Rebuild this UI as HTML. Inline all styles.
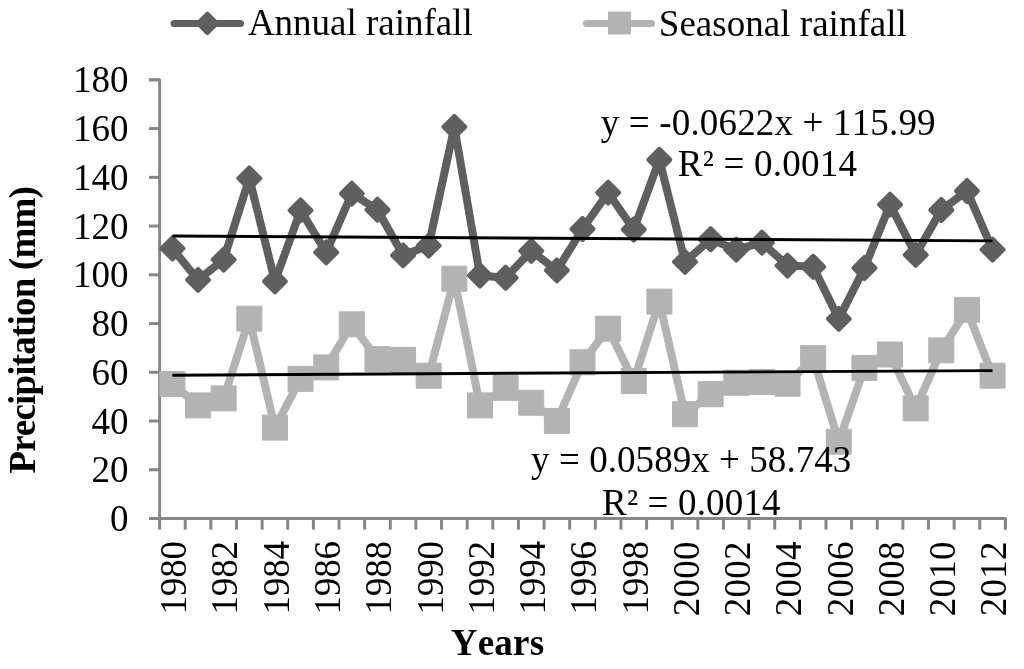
<!DOCTYPE html>
<html><head><meta charset="utf-8"><style>
html,body{margin:0;padding:0;background:#fff;}
body{width:1024px;height:669px;overflow:hidden;}
svg{display:block;}
text{font-kerning:none;font-family:'Liberation Serif', 'Times New Roman', serif;font-size:37px;fill:#000;}
</style></head><body>
<svg width="1024" height="669" viewBox="0 0 1024 669">
<rect width="1024" height="669" fill="#fff"/>
<path d="M149,79.84H159.6V518.5" fill="none" stroke="#868686" stroke-width="2.9" stroke-linejoin="round"/>
<line x1="149" y1="518.50" x2="159.6" y2="518.50" stroke="#868686" stroke-width="3"/>
<line x1="149" y1="469.76" x2="159.6" y2="469.76" stroke="#868686" stroke-width="3"/>
<line x1="149" y1="421.02" x2="159.6" y2="421.02" stroke="#868686" stroke-width="3"/>
<line x1="149" y1="372.28" x2="159.6" y2="372.28" stroke="#868686" stroke-width="3"/>
<line x1="149" y1="323.54" x2="159.6" y2="323.54" stroke="#868686" stroke-width="3"/>
<line x1="149" y1="274.80" x2="159.6" y2="274.80" stroke="#868686" stroke-width="3"/>
<line x1="149" y1="226.06" x2="159.6" y2="226.06" stroke="#868686" stroke-width="3"/>
<line x1="149" y1="177.32" x2="159.6" y2="177.32" stroke="#868686" stroke-width="3"/>
<line x1="149" y1="128.58" x2="159.6" y2="128.58" stroke="#868686" stroke-width="3"/>
<line x1="149" y1="79.84" x2="159.6" y2="79.84" stroke="#868686" stroke-width="3"/>
<path d="M149,518.5H1005.39V529.6" fill="none" stroke="#868686" stroke-width="2.9" stroke-linejoin="round"/>
<line x1="159.60" y1="518.5" x2="159.60" y2="529.6" stroke="#868686" stroke-width="3"/>
<line x1="185.23" y1="518.5" x2="185.23" y2="529.6" stroke="#868686" stroke-width="3"/>
<line x1="210.86" y1="518.5" x2="210.86" y2="529.6" stroke="#868686" stroke-width="3"/>
<line x1="236.49" y1="518.5" x2="236.49" y2="529.6" stroke="#868686" stroke-width="3"/>
<line x1="262.12" y1="518.5" x2="262.12" y2="529.6" stroke="#868686" stroke-width="3"/>
<line x1="287.75" y1="518.5" x2="287.75" y2="529.6" stroke="#868686" stroke-width="3"/>
<line x1="313.38" y1="518.5" x2="313.38" y2="529.6" stroke="#868686" stroke-width="3"/>
<line x1="339.01" y1="518.5" x2="339.01" y2="529.6" stroke="#868686" stroke-width="3"/>
<line x1="364.64" y1="518.5" x2="364.64" y2="529.6" stroke="#868686" stroke-width="3"/>
<line x1="390.27" y1="518.5" x2="390.27" y2="529.6" stroke="#868686" stroke-width="3"/>
<line x1="415.90" y1="518.5" x2="415.90" y2="529.6" stroke="#868686" stroke-width="3"/>
<line x1="441.53" y1="518.5" x2="441.53" y2="529.6" stroke="#868686" stroke-width="3"/>
<line x1="467.16" y1="518.5" x2="467.16" y2="529.6" stroke="#868686" stroke-width="3"/>
<line x1="492.79" y1="518.5" x2="492.79" y2="529.6" stroke="#868686" stroke-width="3"/>
<line x1="518.42" y1="518.5" x2="518.42" y2="529.6" stroke="#868686" stroke-width="3"/>
<line x1="544.05" y1="518.5" x2="544.05" y2="529.6" stroke="#868686" stroke-width="3"/>
<line x1="569.68" y1="518.5" x2="569.68" y2="529.6" stroke="#868686" stroke-width="3"/>
<line x1="595.31" y1="518.5" x2="595.31" y2="529.6" stroke="#868686" stroke-width="3"/>
<line x1="620.94" y1="518.5" x2="620.94" y2="529.6" stroke="#868686" stroke-width="3"/>
<line x1="646.57" y1="518.5" x2="646.57" y2="529.6" stroke="#868686" stroke-width="3"/>
<line x1="672.20" y1="518.5" x2="672.20" y2="529.6" stroke="#868686" stroke-width="3"/>
<line x1="697.83" y1="518.5" x2="697.83" y2="529.6" stroke="#868686" stroke-width="3"/>
<line x1="723.46" y1="518.5" x2="723.46" y2="529.6" stroke="#868686" stroke-width="3"/>
<line x1="749.09" y1="518.5" x2="749.09" y2="529.6" stroke="#868686" stroke-width="3"/>
<line x1="774.72" y1="518.5" x2="774.72" y2="529.6" stroke="#868686" stroke-width="3"/>
<line x1="800.35" y1="518.5" x2="800.35" y2="529.6" stroke="#868686" stroke-width="3"/>
<line x1="825.98" y1="518.5" x2="825.98" y2="529.6" stroke="#868686" stroke-width="3"/>
<line x1="851.61" y1="518.5" x2="851.61" y2="529.6" stroke="#868686" stroke-width="3"/>
<line x1="877.24" y1="518.5" x2="877.24" y2="529.6" stroke="#868686" stroke-width="3"/>
<line x1="902.87" y1="518.5" x2="902.87" y2="529.6" stroke="#868686" stroke-width="3"/>
<line x1="928.50" y1="518.5" x2="928.50" y2="529.6" stroke="#868686" stroke-width="3"/>
<line x1="954.13" y1="518.5" x2="954.13" y2="529.6" stroke="#868686" stroke-width="3"/>
<line x1="979.76" y1="518.5" x2="979.76" y2="529.6" stroke="#868686" stroke-width="3"/>
<line x1="1005.39" y1="518.5" x2="1005.39" y2="529.6" stroke="#868686" stroke-width="3"/>
<text x="128.6" y="531.00" text-anchor="end">0</text>
<text x="128.6" y="482.26" text-anchor="end">20</text>
<text x="128.6" y="433.52" text-anchor="end">40</text>
<text x="128.6" y="384.78" text-anchor="end">60</text>
<text x="128.6" y="336.04" text-anchor="end">80</text>
<text x="128.6" y="287.30" text-anchor="end">100</text>
<text x="128.6" y="238.56" text-anchor="end">120</text>
<text x="128.6" y="189.82" text-anchor="end">140</text>
<text x="128.6" y="141.08" text-anchor="end">160</text>
<text x="128.6" y="92.34" text-anchor="end">180</text>
<text transform="translate(186.22,614.50) rotate(-90)" textLength="73.6" lengthAdjust="spacing">1980</text>
<text transform="translate(237.48,614.50) rotate(-90)" textLength="73.6" lengthAdjust="spacing">1982</text>
<text transform="translate(288.74,614.50) rotate(-90)" textLength="73.6" lengthAdjust="spacing">1984</text>
<text transform="translate(340.00,614.50) rotate(-90)" textLength="73.6" lengthAdjust="spacing">1986</text>
<text transform="translate(391.25,614.50) rotate(-90)" textLength="73.6" lengthAdjust="spacing">1988</text>
<text transform="translate(442.52,614.50) rotate(-90)" textLength="73.6" lengthAdjust="spacing">1990</text>
<text transform="translate(493.78,614.50) rotate(-90)" textLength="73.6" lengthAdjust="spacing">1992</text>
<text transform="translate(545.03,614.50) rotate(-90)" textLength="73.6" lengthAdjust="spacing">1994</text>
<text transform="translate(596.29,614.50) rotate(-90)" textLength="73.6" lengthAdjust="spacing">1996</text>
<text transform="translate(647.55,614.50) rotate(-90)" textLength="73.6" lengthAdjust="spacing">1998</text>
<text transform="translate(698.81,616.20) rotate(-90)" textLength="74.6" lengthAdjust="spacing">2000</text>
<text transform="translate(750.07,616.20) rotate(-90)" textLength="74.6" lengthAdjust="spacing">2002</text>
<text transform="translate(801.33,616.20) rotate(-90)" textLength="74.6" lengthAdjust="spacing">2004</text>
<text transform="translate(852.59,616.20) rotate(-90)" textLength="74.6" lengthAdjust="spacing">2006</text>
<text transform="translate(903.85,616.20) rotate(-90)" textLength="74.6" lengthAdjust="spacing">2008</text>
<text transform="translate(955.11,616.20) rotate(-90)" textLength="74.6" lengthAdjust="spacing">2010</text>
<text transform="translate(1006.38,616.20) rotate(-90)" textLength="74.6" lengthAdjust="spacing">2012</text>
<polyline points="172.41,383.98 198.04,405.42 223.68,398.36 249.31,318.67 274.94,427.60 300.56,378.86 326.19,367.41 351.82,324.27 377.45,359.12 403.08,359.85 428.72,375.69 454.35,278.70 479.98,405.42 505.61,387.88 531.24,402.74 556.87,421.02 582.50,362.29 608.12,328.66 633.75,381.05 659.38,301.61 685.01,414.20 710.64,394.21 736.27,382.76 761.90,382.03 787.53,383.73 813.16,358.15 838.79,441.73 864.42,367.89 890.05,354.49 915.68,408.35 941.31,350.35 966.94,309.89 992.58,375.69" fill="none" stroke="#b3b3b3" stroke-width="8" stroke-linejoin="round" stroke-linecap="round"/>
<rect x="159.91" y="371.48" width="25" height="25" fill="#b3b3b3" stroke="#b3b3b3" stroke-width="1" stroke-linejoin="round"/>
<rect x="185.54" y="392.92" width="25" height="25" fill="#b3b3b3" stroke="#b3b3b3" stroke-width="1" stroke-linejoin="round"/>
<rect x="211.18" y="385.86" width="25" height="25" fill="#b3b3b3" stroke="#b3b3b3" stroke-width="1" stroke-linejoin="round"/>
<rect x="236.81" y="306.17" width="25" height="25" fill="#b3b3b3" stroke="#b3b3b3" stroke-width="1" stroke-linejoin="round"/>
<rect x="262.44" y="415.10" width="25" height="25" fill="#b3b3b3" stroke="#b3b3b3" stroke-width="1" stroke-linejoin="round"/>
<rect x="288.06" y="366.36" width="25" height="25" fill="#b3b3b3" stroke="#b3b3b3" stroke-width="1" stroke-linejoin="round"/>
<rect x="313.69" y="354.91" width="25" height="25" fill="#b3b3b3" stroke="#b3b3b3" stroke-width="1" stroke-linejoin="round"/>
<rect x="339.32" y="311.77" width="25" height="25" fill="#b3b3b3" stroke="#b3b3b3" stroke-width="1" stroke-linejoin="round"/>
<rect x="364.95" y="346.62" width="25" height="25" fill="#b3b3b3" stroke="#b3b3b3" stroke-width="1" stroke-linejoin="round"/>
<rect x="390.58" y="347.35" width="25" height="25" fill="#b3b3b3" stroke="#b3b3b3" stroke-width="1" stroke-linejoin="round"/>
<rect x="416.22" y="363.19" width="25" height="25" fill="#b3b3b3" stroke="#b3b3b3" stroke-width="1" stroke-linejoin="round"/>
<rect x="441.85" y="266.20" width="25" height="25" fill="#b3b3b3" stroke="#b3b3b3" stroke-width="1" stroke-linejoin="round"/>
<rect x="467.48" y="392.92" width="25" height="25" fill="#b3b3b3" stroke="#b3b3b3" stroke-width="1" stroke-linejoin="round"/>
<rect x="493.11" y="375.38" width="25" height="25" fill="#b3b3b3" stroke="#b3b3b3" stroke-width="1" stroke-linejoin="round"/>
<rect x="518.74" y="390.24" width="25" height="25" fill="#b3b3b3" stroke="#b3b3b3" stroke-width="1" stroke-linejoin="round"/>
<rect x="544.37" y="408.52" width="25" height="25" fill="#b3b3b3" stroke="#b3b3b3" stroke-width="1" stroke-linejoin="round"/>
<rect x="570.00" y="349.79" width="25" height="25" fill="#b3b3b3" stroke="#b3b3b3" stroke-width="1" stroke-linejoin="round"/>
<rect x="595.62" y="316.16" width="25" height="25" fill="#b3b3b3" stroke="#b3b3b3" stroke-width="1" stroke-linejoin="round"/>
<rect x="621.25" y="368.55" width="25" height="25" fill="#b3b3b3" stroke="#b3b3b3" stroke-width="1" stroke-linejoin="round"/>
<rect x="646.88" y="289.11" width="25" height="25" fill="#b3b3b3" stroke="#b3b3b3" stroke-width="1" stroke-linejoin="round"/>
<rect x="672.51" y="401.70" width="25" height="25" fill="#b3b3b3" stroke="#b3b3b3" stroke-width="1" stroke-linejoin="round"/>
<rect x="698.14" y="381.71" width="25" height="25" fill="#b3b3b3" stroke="#b3b3b3" stroke-width="1" stroke-linejoin="round"/>
<rect x="723.77" y="370.26" width="25" height="25" fill="#b3b3b3" stroke="#b3b3b3" stroke-width="1" stroke-linejoin="round"/>
<rect x="749.40" y="369.53" width="25" height="25" fill="#b3b3b3" stroke="#b3b3b3" stroke-width="1" stroke-linejoin="round"/>
<rect x="775.03" y="371.23" width="25" height="25" fill="#b3b3b3" stroke="#b3b3b3" stroke-width="1" stroke-linejoin="round"/>
<rect x="800.66" y="345.65" width="25" height="25" fill="#b3b3b3" stroke="#b3b3b3" stroke-width="1" stroke-linejoin="round"/>
<rect x="826.29" y="429.23" width="25" height="25" fill="#b3b3b3" stroke="#b3b3b3" stroke-width="1" stroke-linejoin="round"/>
<rect x="851.92" y="355.39" width="25" height="25" fill="#b3b3b3" stroke="#b3b3b3" stroke-width="1" stroke-linejoin="round"/>
<rect x="877.55" y="341.99" width="25" height="25" fill="#b3b3b3" stroke="#b3b3b3" stroke-width="1" stroke-linejoin="round"/>
<rect x="903.18" y="395.85" width="25" height="25" fill="#b3b3b3" stroke="#b3b3b3" stroke-width="1" stroke-linejoin="round"/>
<rect x="928.81" y="337.85" width="25" height="25" fill="#b3b3b3" stroke="#b3b3b3" stroke-width="1" stroke-linejoin="round"/>
<rect x="954.44" y="297.39" width="25" height="25" fill="#b3b3b3" stroke="#b3b3b3" stroke-width="1" stroke-linejoin="round"/>
<rect x="980.08" y="363.19" width="25" height="25" fill="#b3b3b3" stroke="#b3b3b3" stroke-width="1" stroke-linejoin="round"/>
<polyline points="172.41,248.48 198.04,279.92 223.68,259.69 249.31,178.29 274.94,281.38 300.56,210.46 326.19,252.38 351.82,193.65 377.45,209.73 403.08,255.30 428.72,245.56 454.35,126.87 479.98,275.53 505.61,277.72 531.24,250.92 556.87,270.41 582.50,228.98 608.12,192.67 633.75,229.47 659.38,159.77 685.01,261.88 710.64,239.22 736.27,249.70 761.90,242.63 787.53,265.54 813.16,266.76 838.79,318.91 864.42,267.98 890.05,204.61 915.68,254.82 941.31,209.98 966.94,190.97 992.58,249.70" fill="none" stroke="#5f5f5f" stroke-width="8" stroke-linejoin="round" stroke-linecap="round"/>
<path d="M172.41,237.48L183.41,248.48L172.41,259.48L161.41,248.48Z" fill="#5f5f5f" stroke="#5f5f5f" stroke-width="4" stroke-linejoin="round"/>
<path d="M198.04,268.92L209.04,279.92L198.04,290.92L187.04,279.92Z" fill="#5f5f5f" stroke="#5f5f5f" stroke-width="4" stroke-linejoin="round"/>
<path d="M223.68,248.69L234.68,259.69L223.68,270.69L212.68,259.69Z" fill="#5f5f5f" stroke="#5f5f5f" stroke-width="4" stroke-linejoin="round"/>
<path d="M249.31,167.29L260.31,178.29L249.31,189.29L238.31,178.29Z" fill="#5f5f5f" stroke="#5f5f5f" stroke-width="4" stroke-linejoin="round"/>
<path d="M274.94,270.38L285.94,281.38L274.94,292.38L263.94,281.38Z" fill="#5f5f5f" stroke="#5f5f5f" stroke-width="4" stroke-linejoin="round"/>
<path d="M300.56,199.46L311.56,210.46L300.56,221.46L289.56,210.46Z" fill="#5f5f5f" stroke="#5f5f5f" stroke-width="4" stroke-linejoin="round"/>
<path d="M326.19,241.38L337.19,252.38L326.19,263.38L315.19,252.38Z" fill="#5f5f5f" stroke="#5f5f5f" stroke-width="4" stroke-linejoin="round"/>
<path d="M351.82,182.65L362.82,193.65L351.82,204.65L340.82,193.65Z" fill="#5f5f5f" stroke="#5f5f5f" stroke-width="4" stroke-linejoin="round"/>
<path d="M377.45,198.73L388.45,209.73L377.45,220.73L366.45,209.73Z" fill="#5f5f5f" stroke="#5f5f5f" stroke-width="4" stroke-linejoin="round"/>
<path d="M403.08,244.30L414.08,255.30L403.08,266.30L392.08,255.30Z" fill="#5f5f5f" stroke="#5f5f5f" stroke-width="4" stroke-linejoin="round"/>
<path d="M428.72,234.56L439.72,245.56L428.72,256.56L417.72,245.56Z" fill="#5f5f5f" stroke="#5f5f5f" stroke-width="4" stroke-linejoin="round"/>
<path d="M454.35,115.87L465.35,126.87L454.35,137.87L443.35,126.87Z" fill="#5f5f5f" stroke="#5f5f5f" stroke-width="4" stroke-linejoin="round"/>
<path d="M479.98,264.53L490.98,275.53L479.98,286.53L468.98,275.53Z" fill="#5f5f5f" stroke="#5f5f5f" stroke-width="4" stroke-linejoin="round"/>
<path d="M505.61,266.72L516.61,277.72L505.61,288.72L494.61,277.72Z" fill="#5f5f5f" stroke="#5f5f5f" stroke-width="4" stroke-linejoin="round"/>
<path d="M531.24,239.92L542.24,250.92L531.24,261.92L520.24,250.92Z" fill="#5f5f5f" stroke="#5f5f5f" stroke-width="4" stroke-linejoin="round"/>
<path d="M556.87,259.41L567.87,270.41L556.87,281.41L545.87,270.41Z" fill="#5f5f5f" stroke="#5f5f5f" stroke-width="4" stroke-linejoin="round"/>
<path d="M582.50,217.98L593.50,228.98L582.50,239.98L571.50,228.98Z" fill="#5f5f5f" stroke="#5f5f5f" stroke-width="4" stroke-linejoin="round"/>
<path d="M608.12,181.67L619.12,192.67L608.12,203.67L597.12,192.67Z" fill="#5f5f5f" stroke="#5f5f5f" stroke-width="4" stroke-linejoin="round"/>
<path d="M633.75,218.47L644.75,229.47L633.75,240.47L622.75,229.47Z" fill="#5f5f5f" stroke="#5f5f5f" stroke-width="4" stroke-linejoin="round"/>
<path d="M659.38,148.77L670.38,159.77L659.38,170.77L648.38,159.77Z" fill="#5f5f5f" stroke="#5f5f5f" stroke-width="4" stroke-linejoin="round"/>
<path d="M685.01,250.88L696.01,261.88L685.01,272.88L674.01,261.88Z" fill="#5f5f5f" stroke="#5f5f5f" stroke-width="4" stroke-linejoin="round"/>
<path d="M710.64,228.22L721.64,239.22L710.64,250.22L699.64,239.22Z" fill="#5f5f5f" stroke="#5f5f5f" stroke-width="4" stroke-linejoin="round"/>
<path d="M736.27,238.70L747.27,249.70L736.27,260.70L725.27,249.70Z" fill="#5f5f5f" stroke="#5f5f5f" stroke-width="4" stroke-linejoin="round"/>
<path d="M761.90,231.63L772.90,242.63L761.90,253.63L750.90,242.63Z" fill="#5f5f5f" stroke="#5f5f5f" stroke-width="4" stroke-linejoin="round"/>
<path d="M787.53,254.54L798.53,265.54L787.53,276.54L776.53,265.54Z" fill="#5f5f5f" stroke="#5f5f5f" stroke-width="4" stroke-linejoin="round"/>
<path d="M813.16,255.76L824.16,266.76L813.16,277.76L802.16,266.76Z" fill="#5f5f5f" stroke="#5f5f5f" stroke-width="4" stroke-linejoin="round"/>
<path d="M838.79,307.91L849.79,318.91L838.79,329.91L827.79,318.91Z" fill="#5f5f5f" stroke="#5f5f5f" stroke-width="4" stroke-linejoin="round"/>
<path d="M864.42,256.98L875.42,267.98L864.42,278.98L853.42,267.98Z" fill="#5f5f5f" stroke="#5f5f5f" stroke-width="4" stroke-linejoin="round"/>
<path d="M890.05,193.61L901.05,204.61L890.05,215.61L879.05,204.61Z" fill="#5f5f5f" stroke="#5f5f5f" stroke-width="4" stroke-linejoin="round"/>
<path d="M915.68,243.82L926.68,254.82L915.68,265.82L904.68,254.82Z" fill="#5f5f5f" stroke="#5f5f5f" stroke-width="4" stroke-linejoin="round"/>
<path d="M941.31,198.98L952.31,209.98L941.31,220.98L930.31,209.98Z" fill="#5f5f5f" stroke="#5f5f5f" stroke-width="4" stroke-linejoin="round"/>
<path d="M966.94,179.97L977.94,190.97L966.94,201.97L955.94,190.97Z" fill="#5f5f5f" stroke="#5f5f5f" stroke-width="4" stroke-linejoin="round"/>
<path d="M992.58,238.70L1003.58,249.70L992.58,260.70L981.58,249.70Z" fill="#5f5f5f" stroke="#5f5f5f" stroke-width="4" stroke-linejoin="round"/>
<line x1="172.41" y1="235.98" x2="992.58" y2="240.83" stroke="#000" stroke-width="2.9"/>
<line x1="172.41" y1="375.20" x2="992.58" y2="370.61" stroke="#000" stroke-width="2.9"/>
<text x="600.80" y="134.60" font-size="37" textLength="334.76" lengthAdjust="spacing">y = -0.0622x + 115.99</text>
<text x="677.80" y="176.40" font-size="37" textLength="179.09" lengthAdjust="spacing">R² = 0.0014</text>
<text x="531.10" y="472.00" font-size="37" textLength="320.23" lengthAdjust="spacing">y = 0.0589x + 58.743</text>
<text x="602.10" y="514.60" font-size="37" textLength="178.49" lengthAdjust="spacing">R² = 0.0014</text>
<line x1="174" y1="23.4" x2="240.5" y2="23.4" stroke="#5f5f5f" stroke-width="7" stroke-linecap="round"/>
<path d="M207.4,13.6L217.2,23.4L207.4,33.2L197.6,23.4Z" fill="#5f5f5f" stroke="#5f5f5f" stroke-width="4" stroke-linejoin="round"/>
<text x="247.90" y="35.30" font-size="37" textLength="224.8" lengthAdjust="spacing">Annual rainfall</text>
<line x1="586.5" y1="23.4" x2="651.5" y2="23.4" stroke="#b3b3b3" stroke-width="7" stroke-linecap="round"/>
<rect x="608" y="11.5" width="23" height="23" fill="#b3b3b3"/>
<text x="658.80" y="35.60" font-size="37" textLength="248.01" lengthAdjust="spacing">Seasonal rainfall</text>
<text transform="translate(34.75,473.60) rotate(-90)" font-size="37" font-weight="bold" textLength="287.45" lengthAdjust="spacing">Precipitation (mm)</text>
<text x="450.70" y="654.80" font-size="37" font-weight="bold" textLength="93.47" lengthAdjust="spacing">Years</text>
</svg>
</body></html>
